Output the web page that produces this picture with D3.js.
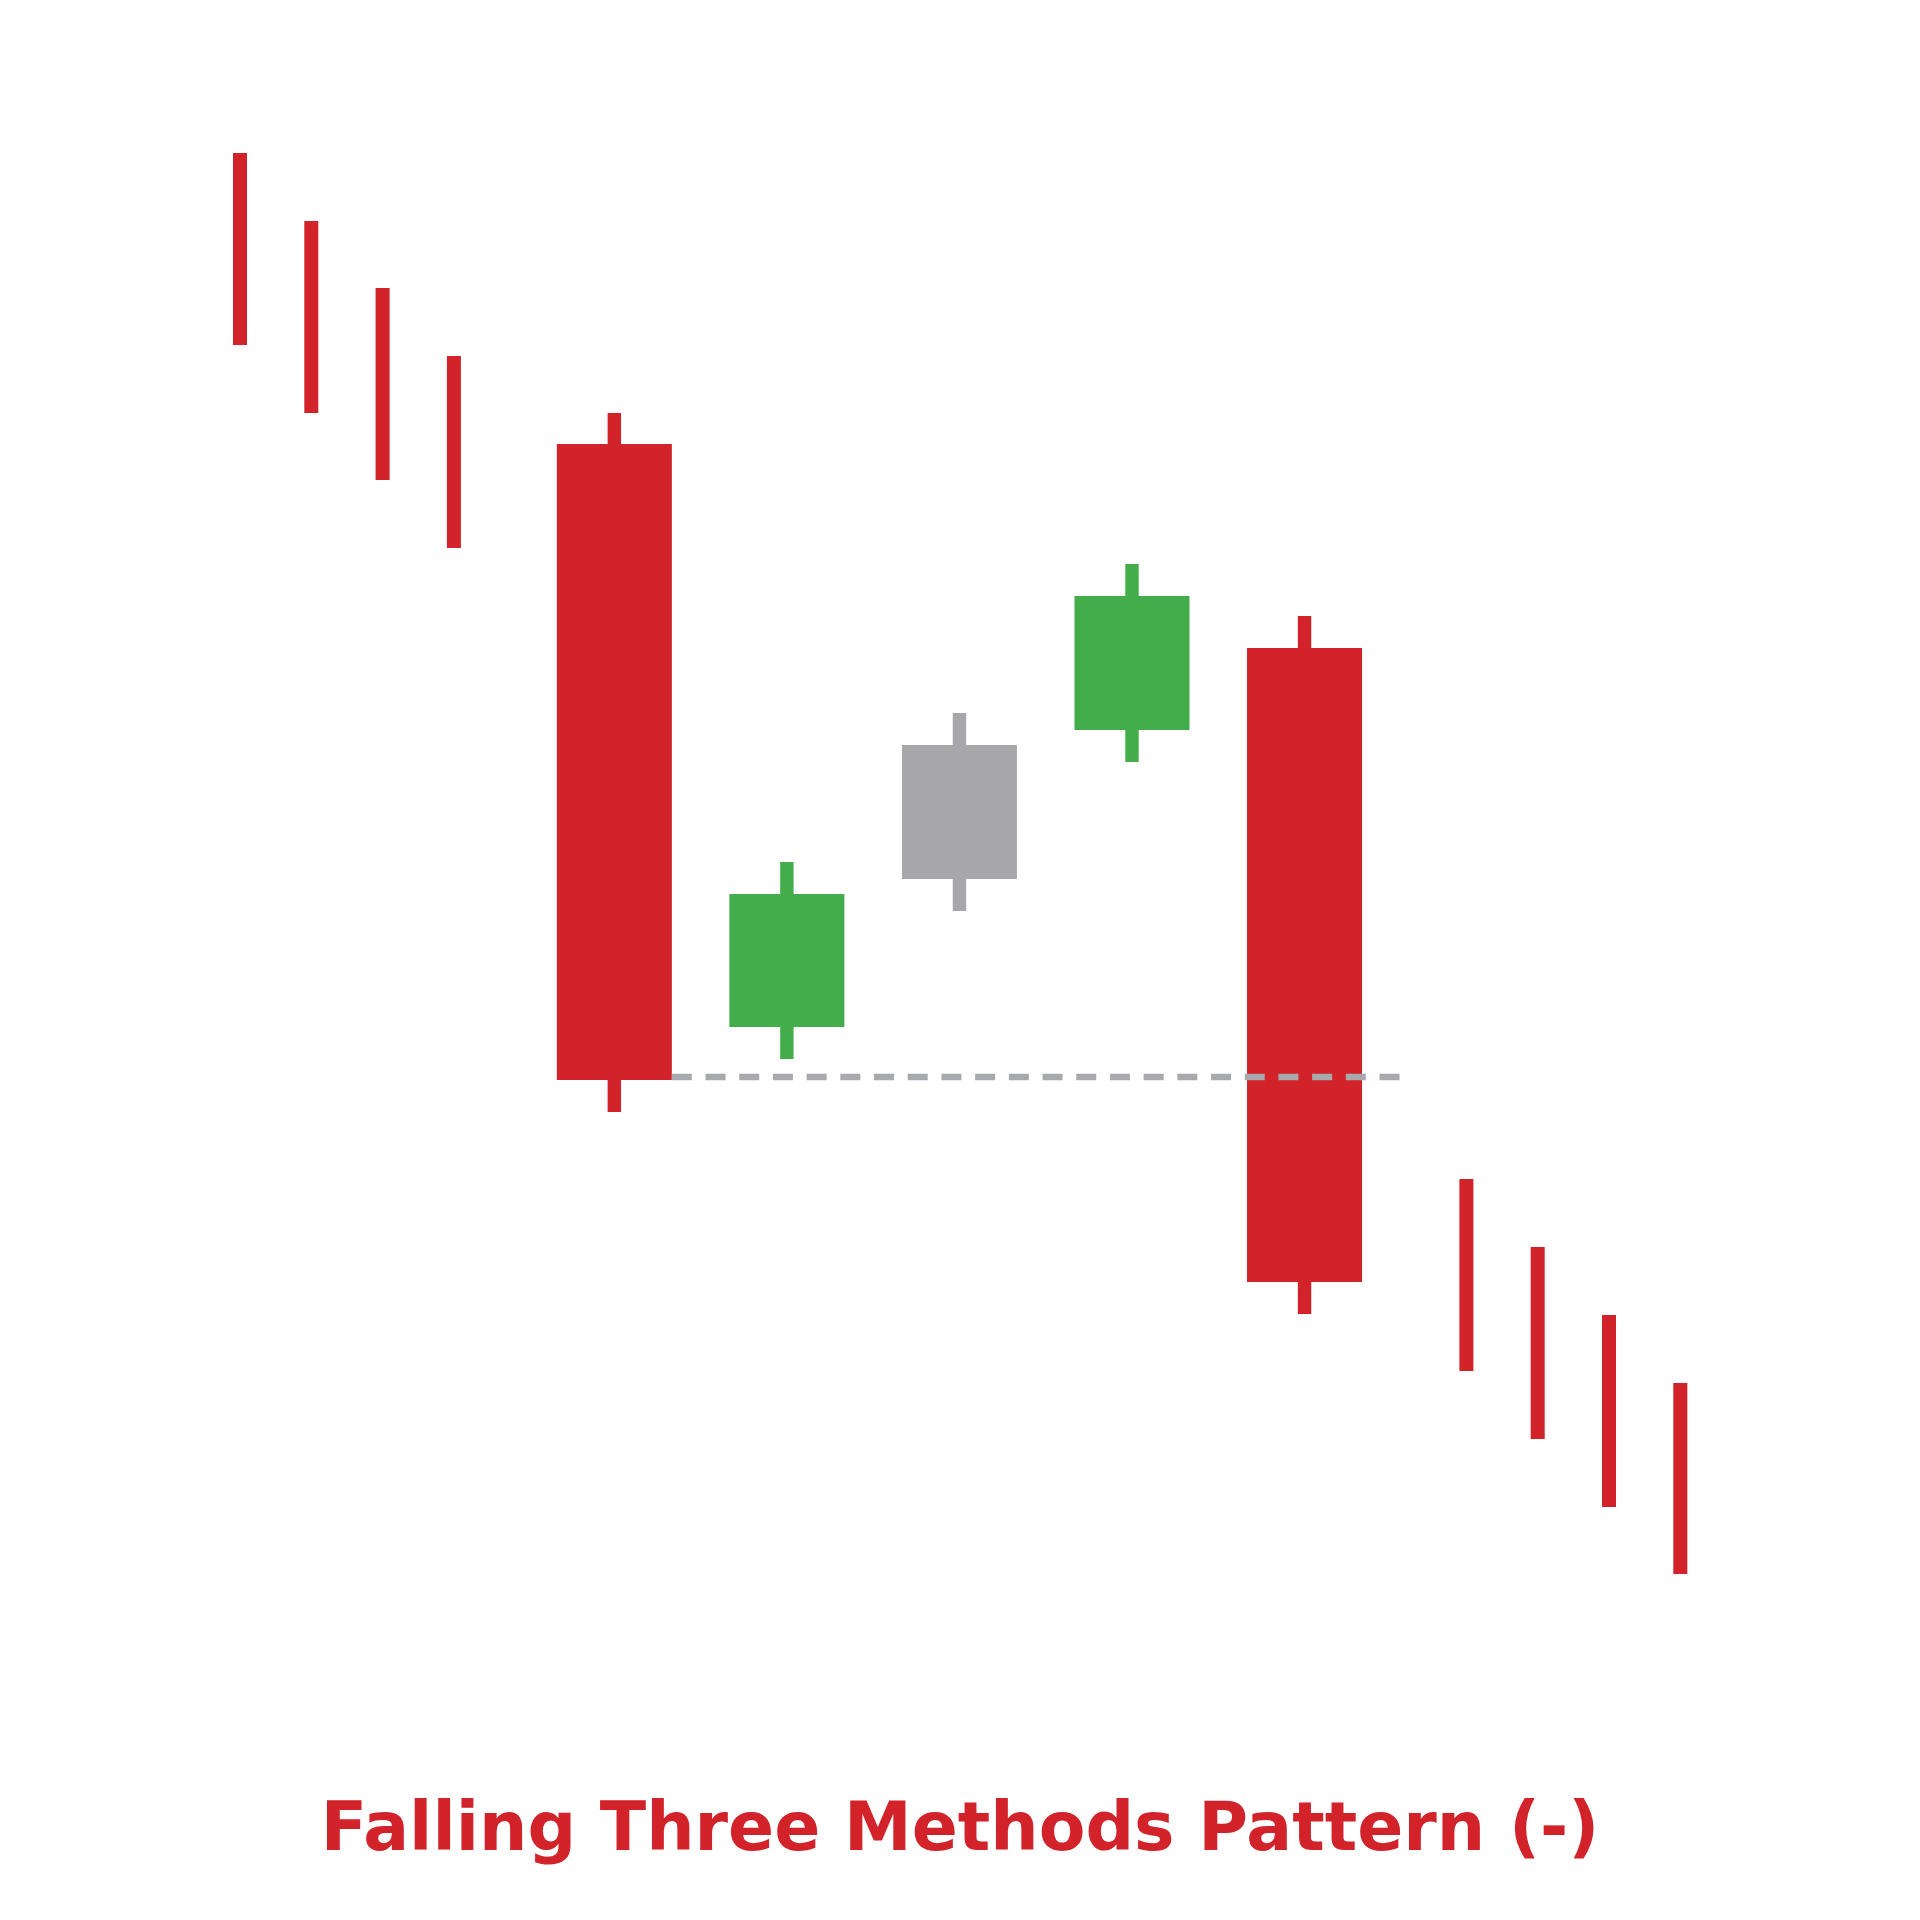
<!DOCTYPE html>
<html>
<head>
<meta charset="utf-8">
<script src="https://cdn.jsdelivr.net/npm/d3@7"></script>
<style>
  html, body { margin: 0; padding: 0; background: #fff; }
  svg { display: block; }
</style>
</head>
<body>
<svg id="chart"></svg>
<script>
// trend bars before and after the pattern (slot, high, low)
const leftSlots = [0, 1, 2, 3];
const leftHigh = [146.7, 139.9, 133.2, 126.4];
const leftLow = [127.5, 120.7, 114.0, 107.2];

const rightSlots = [17.2, 18.2, 19.2, 20.2];
const rightHigh = [44.1, 37.3, 30.5, 23.7];
const rightLow = [24.9, 18.1, 11.3, 4.6];

// the five candles of the pattern
const candleSlots = [5.25, 7.67, 10.09, 12.51, 14.93];
const candleOpen = [117.6, 59.3, 74.1, 89.0, 97.2];
const candleHigh = [120.7, 75.8, 90.7, 105.6, 100.4];
const candleLow = [50.8, 56.1, 70.9, 85.8, 30.6];
const candleClose = [54.0, 72.6, 87.5, 102.4, 33.8];
const candleKind = ['down', 'up', 'neutral', 'up', 'down'];

// support level taken from the first candle's close
const supportLevel = 54.3;
const supportFrom = 5.25;
const supportTo = 16.27;

const title = 'Falling Three Methods Pattern (-)';

const colors = {down: '#d2232a', up: '#42ad4a', neutral: '#a7a7aa'};

const width = 1920;
const height = 1920;

const x = d3.scaleLinear()
  .domain([0, 20.2])
  .range([240, 1680.3]);

const y = d3.scaleLinear()
  .domain([0, 150])
  .range([1620, 120]);

const barW = 14;
const bodyW = 115;
const wickW = 13.4;

const svg = d3.select('#chart')
  .attr('width', width)
  .attr('height', height)
  .attr('viewBox', '0 0 ' + width + ' ' + height);

svg.append('rect')
  .attr('width', width)
  .attr('height', height)
  .attr('fill', '#fff');

const trend = leftSlots.map((s, i) => ({slot: s, high: leftHigh[i], low: leftLow[i]}))
  .concat(rightSlots.map((s, i) => ({slot: s, high: rightHigh[i], low: rightLow[i]})));

svg.append('g')
  .selectAll('rect')
  .data(trend)
  .enter().append('rect')
    .attr('x', d => x(d.slot) - barW / 2)
    .attr('y', d => y(d.high))
    .attr('width', barW)
    .attr('height', d => y(d.low) - y(d.high))
    .attr('fill', colors.down);

const candles = candleSlots.map((s, i) => ({
  slot: s,
  open: candleOpen[i],
  high: candleHigh[i],
  low: candleLow[i],
  close: candleClose[i],
  kind: candleKind[i]
}));

const c = svg.append('g')
  .selectAll('g')
  .data(candles)
  .enter().append('g');

c.append('rect')
  .attr('x', d => x(d.slot) - wickW / 2)
  .attr('y', d => y(d.high))
  .attr('width', wickW)
  .attr('height', d => y(d.low) - y(d.high))
  .attr('fill', d => colors[d.kind]);

c.append('rect')
  .attr('x', d => x(d.slot) - bodyW / 2)
  .attr('y', d => y(Math.max(d.open, d.close)))
  .attr('width', bodyW)
  .attr('height', d => Math.abs(y(d.open) - y(d.close)))
  .attr('fill', d => colors[d.kind]);

// dashed support line
svg.append('line')
  .attr('x1', x(supportFrom) + bodyW / 2)
  .attr('x2', x(supportTo))
  .attr('y1', y(supportLevel))
  .attr('y2', y(supportLevel))
  .attr('stroke', '#a7a9ac')
  .attr('stroke-width', 6.7)
  .attr('stroke-dasharray', '20 13.7');

svg.append('text')
  .attr('x', width / 2)
  .attr('y', 1850)
  .attr('text-anchor', 'middle')
  .attr('font-family', '"DejaVu Sans", Verdana, sans-serif')
  .attr('font-weight', 'bold')
  .attr('font-size', 68)
  .attr('fill', colors.down)
  .text(title);
</script>
</body>
</html>
